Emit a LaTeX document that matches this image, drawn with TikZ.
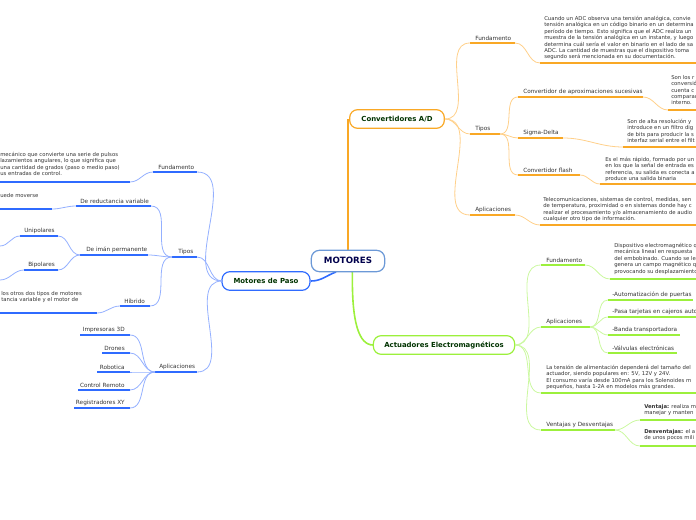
\documentclass[tikz,border=0pt]{standalone}
\usepackage{fontspec}
\setmainfont{DejaVu Sans}
\definecolor{bul}{HTML}{2F6BFF}
\definecolor{bcl}{HTML}{94B0FF}
\definecolor{gul}{HTML}{9CF03C}
\definecolor{gcl}{HTML}{CBF8A0}
\definecolor{oul}{HTML}{F9A825}
\definecolor{ocl}{HTML}{FFD08A}
\begin{document}
\begin{tikzpicture}[x=0.75pt,y=-0.75pt,
  txt/.style={anchor=north west,inner sep=0,align=left,text=black!80,font=\fontsize{4}{4.8}\selectfont},
  lbl/.style={anchor=south west,inner sep=0,text=black!80,font=\fontsize{4.3}{5}\selectfont},
  lblr/.style={anchor=south east,inner sep=0,text=black!80,font=\fontsize{4.3}{5}\selectfont},
  title/.style={draw,rounded corners=6pt,line width=0.9pt,fill=white,text=green!20!black,font=\bfseries\fontsize{5.2}{6}\selectfont,inner xsep=0,inner ysep=0},
  ou/.style={draw=oul,line width=1.4pt},
  oc/.style={draw=ocl,line width=0.6pt},
  bu/.style={draw=bul,line width=1.4pt},
  bc/.style={draw=bcl,line width=0.6pt},
  gu/.style={draw=gul,line width=1.4pt},
  gc/.style={draw=gcl,line width=0.6pt}]
\useasboundingbox (0,0) rectangle (696,520);
\newcommand\ul[4]{\draw[#1] (#2,#4) -- (#3,#4);}
\newcommand\cvr[5]{\draw[#1] (#2,#3) to[out=0,in=180] (#4,#5);}
\newcommand\cvl[5]{\draw[#1] (#2,#3) to[out=180,in=0] (#4,#5);}
% main connectors
\coordinate (mtop) at (348,250);
\coordinate (ctop) at (348,119);
\draw[draw=oul,line width=1.6pt] (mtop) -- (ctop);
\draw[draw=gul,line width=1.2pt] (351,272) to[out=80,in=180] (373,345);
\draw[draw=bul,line width=1.2pt] (336,272) to[out=-160,in=0] (311,281);
\node[title,draw=cyan!50!blue!60,text=blue!30!black,font=\bfseries\fontsize{6.5}{7}\selectfont] (m) at (348,261) {\makebox[55pt]{MOTORES}\rule[-6pt]{0pt}{16pt}};
\node[title,draw=oul] (cad) at (397,119) {\makebox[71pt]{Convertidores A/D}\rule[-5pt]{0pt}{14pt}};
\node[title,draw=bul] (mp) at (266,281) {\makebox[66pt]{Motores de Paso}\rule[-5pt]{0pt}{14pt}};
\node[title,draw=gul] (ae) at (444,345) {\makebox[106pt]{Actuadores Electromagnéticos}\rule[-5pt]{0pt}{14pt}};
% ===== orange branch
\cvr{oc}{445}{119}{470}{43} \ul{ou}{470}{515}{43} \node[lbl] at (475,41) {Fundamento};
\cvr{oc}{515}{43}{540}{63} \ul{ou}{540}{696}{63}
\node[txt] at (544,16) {Cuando un ADC observa una tensión analógica, convie\\tensión analógica en un código binario en un determina\\período de tiempo. Esto significa que el ADC realiza un\\muestra de la tensión analógica en un instante, y luego\\determina cuál sería el valor en binario en el lado de sa\\ADC. La cantidad de muestras que el dispositivo toma\\segundo será mencionada en su documentación.};
\cvr{oc}{445}{119}{470}{134} \ul{ou}{470}{500}{134} \node[lbl] at (475,132) {Tipos};
\cvr{oc}{500}{134}{518}{97} \ul{ou}{518}{643}{97} \node[lbl] at (523,95) {Convertidor de aproximaciones sucesivas};
\cvr{oc}{643}{97}{668}{110} \ul{ou}{668}{696}{110}
\node[txt] at (671,75) {Son los r\\conversió\\cuenta c\\comparad\\interno.};
\cvr{oc}{500}{134}{518}{138} \ul{ou}{518}{563}{138} \node[lbl] at (523,136) {Sigma-Delta};
\cvr{oc}{563}{138}{623}{147} \ul{ou}{623}{696}{147}
\node[txt] at (627,119) {Son de alta resolución y\\introduce en un filtro dig\\de bits para producir la s\\interfaz serial entre el filt};
\cvr{oc}{500}{134}{518}{175} \ul{ou}{518}{580}{175} \node[lbl] at (523,173) {Convertidor flash};
\cvr{oc}{580}{175}{600}{184} \ul{ou}{600}{696}{184}
\node[txt] at (605,157) {Es el más rápido, formado por un\\en los que la señal de entrada es\\referencia, su salida es conecta a\\produce una salida binaria};
\cvr{oc}{445}{119}{470}{215} \ul{ou}{470}{515}{215} \node[lbl] at (475,213) {Aplicaciones};
\cvr{oc}{515}{215}{540}{225} \ul{ou}{540}{696}{225}
\node[txt] at (543,197) {Telecomunicaciones, sistemas de control, medidas, sen\\de temperatura, proximidad o en sistemas donde hay c\\realizar el procesamiento y/o almacenamiento de audio\\cualquier otro tipo de información.};
% ===== green branch
\cvr{gc}{515}{345}{541}{265} \ul{gu}{541}{585}{265} \node[lbl] at (546,263) {Fundamento};
\cvr{gc}{585}{265}{610}{279} \ul{gu}{610}{696}{279}
\node[txt] at (614,243) {Dispositivo electromagnético q\\mecánica lineal en respuesta\\del embobinado. Cuando se le\\genera un campo magnético q\\provocando su desplazamiento};
\cvr{gc}{515}{345}{541}{327} \ul{gu}{541}{590}{327} \node[lbl] at (546,325) {Aplicaciones};
\cvr{gc}{590}{327}{608}{300} \ul{gu}{608}{693}{300} \node[lbl] at (612,298) {-Automatización de puertas};
\cvr{gc}{590}{327}{608}{317} \ul{gu}{608}{696}{317} \node[lbl] at (612,315) {-Pasa tarjetas en cajeros automáticos};
\cvr{gc}{590}{327}{608}{335} \ul{gu}{608}{680}{335} \node[lbl] at (612,333) {-Banda transportadora};
\cvr{gc}{590}{327}{608}{353} \ul{gu}{608}{677}{353} \node[lbl] at (612,351) {-Válvulas electrónicas};
\cvr{gc}{515}{345}{541}{393} \ul{gu}{541}{696}{393}
\node[txt] at (546,365) {La tensión de alimentación dependerá del tamaño del\\actuador, siendo populares en: 5V, 12V y 24V.\\El consumo varía desde 100mA para los Solenoides m\\pequeños, hasta 1-2A en modelos más grandes.};
\cvr{gc}{515}{345}{541}{430} \ul{gu}{541}{615}{430} \node[lbl] at (546,428) {Ventajas y Desventajas};
\cvr{gc}{615}{430}{640}{420} \ul{gu}{640}{696}{420}
\node[txt] at (644,404) {\textbf{Ventaja:} realiza m\\manejar y manten};
\cvr{gc}{615}{430}{640}{446} \ul{gu}{640}{696}{446}
\node[txt] at (644,429) {\textbf{Desventajas:} el a\\de unos pocos mili};
% ===== blue branch
\cvl{bc}{222}{281}{197}{172} \ul{bu}{153}{197}{172} \node[lbl] at (158,170) {Fundamento};
\cvl{bc}{153}{172}{130}{182} \ul{bu}{0}{130}{182}
\node[txt] at (0,152) {mecánico que convierte una serie de pulsos\\lazamientos angulares, lo que significa que\\una cantidad de grados (paso o medio paso)\\us entradas de control.};
\cvl{bc}{222}{281}{197}{257} \ul{bu}{172}{197}{257} \node[lbl] at (178,255) {Tipos};
\cvl{bc}{172}{257}{151}{206} \ul{bu}{76}{151}{206} \node[lbl] at (80,204) {De reductancia variable};
\cvl{bc}{76}{206}{52}{209} \ul{bu}{0}{52}{209}
\node[txt] at (0,193) {uede moverse};
\cvl{bc}{172}{257}{148}{255} \ul{bu}{80}{148}{255} \node[lbl] at (86,253) {De imán permanente};
\cvl{bc}{80}{255}{58}{236} \ul{bu}{20}{58}{236} \node[lbl] at (24,234) {Unipolares};
\cvl{bc}{20}{236}{0}{246}
\cvl{bc}{80}{255}{58}{270} \ul{bu}{24}{58}{270} \node[lbl] at (28,268) {Bipolares};
\cvl{bc}{24}{270}{0}{280}
\cvl{bc}{172}{257}{150}{306} \ul{bu}{120}{150}{306} \node[lbl] at (124,304) {Híbrido};
\cvl{bc}{120}{306}{97}{313} \ul{bu}{0}{97}{313}
\node[txt] at (1,291) {los otros dos tipos de motores\\tancia variable y el motor de};
\cvl{bc}{222}{281}{197}{372} \ul{bu}{155}{197}{372} \node[lbl] at (159,370) {Aplicaciones};
\cvl{bc}{155}{372}{130}{335} \ul{bu}{80}{130}{335} \node[lblr] at (125,333) {Impresoras 3D};
\cvl{bc}{155}{372}{130}{353} \ul{bu}{102}{130}{353} \node[lblr] at (125,351) {Drones};
\cvl{bc}{155}{372}{130}{372} \ul{bu}{97}{130}{372} \node[lblr] at (125,370) {Robotica};
\cvl{bc}{155}{372}{130}{390} \ul{bu}{78}{130}{390} \node[lblr] at (125,388) {Control Remoto};
\cvl{bc}{155}{372}{130}{408} \ul{bu}{74}{130}{408} \node[lblr] at (125,406) {Registradores XY};
\end{tikzpicture}
\end{document}
